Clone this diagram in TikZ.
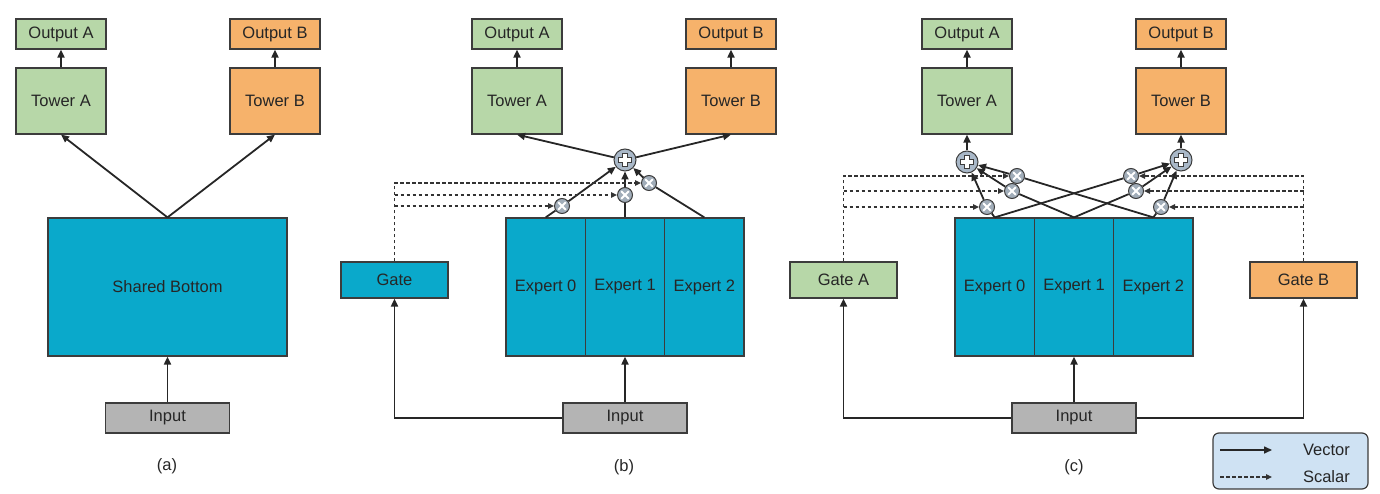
\documentclass[tikz,border=0pt]{standalone}
\usepackage{fontspec}
\setmainfont{Liberation Sans}
\usetikzlibrary{arrows.meta}
\definecolor{towgreen}{HTML}{B7D7A8}
\definecolor{toworange}{HTML}{F6B26B}
\definecolor{expblue}{HTML}{0AA9CB}
\definecolor{inpgray}{HTML}{B4B4B4}
\definecolor{legblue}{HTML}{CFE2F3}
\definecolor{edgegray}{HTML}{3C3C3C}
\definecolor{opfill}{HTML}{A9B8C8}

\begin{document}
\begin{tikzpicture}[
		x=1pt, y=-1pt,
		every node/.style={font=\fontsize{16.5}{19}\selectfont, text=black!85, inner sep=0pt},
		box/.style={rectangle, draw=edgegray, line width=1.2pt},
		outbox/.style={box, minimum width=90pt, minimum height=30pt},
		towbox/.style={box, minimum width=90pt, minimum height=66pt},
		inbox/.style={box, fill=inpgray, minimum width=124pt, minimum height=30pt},
		gatebox/.style={box, minimum width=107pt, minimum height=36pt},
		expbox/.style={box, fill=expblue, minimum width=79.4pt, minimum height=138pt},
		adder/.style={circle, draw=edgegray, fill=opfill, line width=1pt, minimum size=22pt,
			path picture={
				\draw[edgegray, line width=5.5pt]
					([xshift=-7pt]path picture bounding box.center) -- ([xshift=7pt]path picture bounding box.center)
					([yshift=-7pt]path picture bounding box.center) -- ([yshift=7pt]path picture bounding box.center);
				\draw[white, line width=3.3pt]
					([xshift=-6pt]path picture bounding box.center) -- ([xshift=6pt]path picture bounding box.center)
					([yshift=-6pt]path picture bounding box.center) -- ([yshift=6pt]path picture bounding box.center);
			}},
		mult/.style={circle, draw=edgegray, fill=opfill!80!gray, line width=1pt, minimum size=15pt,
			path picture={
				\draw[white, line width=2pt]
					([shift={(-3.8pt,-3.8pt)}]path picture bounding box.center) -- ([shift={(3.8pt,3.8pt)}]path picture bounding box.center)
					([shift={(-3.8pt,3.8pt)}]path picture bounding box.center) -- ([shift={(3.8pt,-3.8pt)}]path picture bounding box.center);
			}},
		plain/.style={line width=1.8pt, draw=black!85},
		vec/.style={plain, -{Triangle[length=8pt,width=7pt]}},
		sca/.style={line width=1.7pt, draw=black!80, dash pattern=on 3.5pt off 2.5pt, -{Triangle[length=6pt,width=5.5pt]}}
	]
  \useasboundingbox (0, 0) rectangle (1380, 494);

  % (a)
  \node (out_A_a) [outbox, fill=towgreen] at (61, 34) {Output A};
  \node (tow_A_a) [towbox, fill=towgreen] at (61, 101) {Tower A};
  \node (out_B_a) [outbox, fill=toworange] at (275, 34) {Output B};
  \node (tow_B_a) [towbox, fill=toworange] at (275, 101) {Tower B};
  \node (shared) [box, fill=expblue, minimum width=239pt, minimum height=138pt] at (167.5, 287) {Shared Bottom};
  \node (in_a) [inbox] at (167.5, 418) {Input};
  \node (lab_a) at (167, 466) {(a)};
  \draw[vec] (tow_A_a) -- (out_A_a);
  \draw[vec] (tow_B_a) -- (out_B_a);
  \draw[vec] (shared.north) -- (tow_A_a.south);
  \draw[vec] (shared.north) -- (tow_B_a.south);
  \draw[vec] (in_a) -- (shared);

  % (b)
  \node (out_A_b) [outbox, fill=towgreen] at (517, 34) {Output A};
  \node (tow_A_b) [towbox, fill=towgreen] at (517, 101) {Tower A};
  \node (out_B_b) [outbox, fill=toworange] at (731, 34) {Output B};
  \node (tow_B_b) [towbox, fill=toworange] at (731, 101) {Tower B};
  \node (e_0_b) [expbox] at (545.7, 287) {Expert 0};
  \node (e_1_b) [expbox] at (625, 287) {Expert 1};
  \node (e_2_b) [expbox] at (704.3, 287) {Expert 2};
  \node (gate_b) [gatebox, fill=expblue] at (394.5, 280) {Gate};
  \node (in_b) [inbox] at (625, 418) {Input};
  \node (lab_b) at (624, 467) {(b)};
  \node (plus_b) [adder] at (625, 160) {};
  \node (m_0_b) [mult] at (562, 206) {};
  \node (m_1_b) [mult] at (625, 195) {};
  \node (m_2_b) [mult] at (649, 183) {};
  \draw[vec] (tow_A_b) -- (out_A_b);
  \draw[vec] (tow_B_b) -- (out_B_b);
  \draw[vec] (plus_b) -- (tow_A_b.south);
  \draw[vec] (plus_b) -- (tow_B_b.south);
  \draw[plain] (e_0_b.north) -- (m_0_b);
  \draw[plain] (e_1_b.north) -- (m_1_b);
  \draw[plain] (e_2_b.north) -- (m_2_b);
  \draw[vec] (m_0_b) -- (plus_b);
  \draw[vec] (m_1_b) -- (plus_b);
  \draw[vec] (m_2_b) -- (plus_b);
  \draw[sca] (gate_b.north) |- (m_2_b);
  \draw[sca] (gate_b.north |- m_1_b) -- (m_1_b);
  \draw[sca] (gate_b.north |- m_0_b) -- (m_0_b);
  \draw[vec] (in_b.north) -- (e_1_b.south);
  \draw[vec] (in_b.west) -| (gate_b.south);

  % (c)
  \node (out_A_c) [outbox, fill=towgreen] at (967, 34) {Output A};
  \node (tow_A_c) [towbox, fill=towgreen] at (967, 101) {Tower A};
  \node (out_B_c) [outbox, fill=toworange] at (1181, 34) {Output B};
  \node (tow_B_c) [towbox, fill=toworange] at (1181, 101) {Tower B};
  \node (e_0_c) [expbox] at (994.7, 287) {Expert 0};
  \node (e_1_c) [expbox] at (1074, 287) {Expert 1};
  \node (e_2_c) [expbox] at (1153.3, 287) {Expert 2};
  \node (gate_A_c) [gatebox, fill=towgreen] at (843.5, 280) {Gate A};
  \node (gate_B_c) [gatebox, fill=toworange] at (1303.5, 280) {Gate B};
  \node (in_c) [inbox] at (1074, 418) {Input};
  \node (lab_c) at (1074, 467) {(c)};
  \node (plus_A_c) [adder] at (967, 162) {};
  \node (plus_B_c) [adder] at (1181, 160) {};
  \node (m_A0_c) [mult] at (987, 207) {};
  \node (m_A1_c) [mult] at (1012, 191) {};
  \node (m_A2_c) [mult] at (1017, 176) {};
  \node (m_B0_c) [mult] at (1131, 176) {};
  \node (m_B1_c) [mult] at (1136, 191) {};
  \node (m_B2_c) [mult] at (1161, 207) {};
  \draw[vec] (tow_A_c) -- (out_A_c);
  \draw[vec] (tow_B_c) -- (out_B_c);
  \draw[vec] (plus_A_c) -- (tow_A_c);
  \draw[vec] (plus_B_c) -- (tow_B_c);
  \draw[plain] (e_0_c.north) -- (m_A0_c);
  \draw[plain] (e_1_c.north) -- (m_A1_c);
  \draw[plain] (e_2_c.north) -- (m_A2_c);
  \draw[plain] (e_0_c.north) -- (m_B0_c);
  \draw[plain] (e_1_c.north) -- (m_B1_c);
  \draw[plain] (e_2_c.north) -- (m_B2_c);
  \draw[vec] (m_A0_c) -- (plus_A_c);
  \draw[vec] (m_A1_c) -- (plus_A_c);
  \draw[vec] (m_A2_c) -- (plus_A_c);
  \draw[vec] (m_B0_c) -- (plus_B_c);
  \draw[vec] (m_B1_c) -- (plus_B_c);
  \draw[vec] (m_B2_c) -- (plus_B_c);
  \draw[sca] (gate_A_c.north) |- (m_A2_c);
  \draw[sca] (gate_A_c.north |- m_A1_c) -- (m_A1_c);
  \draw[sca] (gate_A_c.north |- m_A0_c) -- (m_A0_c);
  \draw[sca] (gate_B_c.north) |- (m_B0_c);
  \draw[sca] (gate_B_c.north |- m_B1_c) -- (m_B1_c);
  \draw[sca] (gate_B_c.north |- m_B2_c) -- (m_B2_c);
  \draw[vec] (in_c.north) -- (e_1_c.south);
  \draw[vec] (in_c.west) -| (gate_A_c.south);
  \draw[vec] (in_c.east) -| (gate_B_c.south);

  % legend
  \node (legend) [rectangle, rounded corners=6pt, draw=edgegray, line width=1.2pt, fill=legblue,
    minimum width=155pt, minimum height=56pt] at (1290.5, 461) {};
  \coordinate (vec_s) at (1220, 450);
  \coordinate (vec_e) at (1272, 450);
  \coordinate (sca_s) at (1220, 477);
  \coordinate (sca_e) at (1272, 477);
  \node (vec_lab) [anchor=east] at (1350, 450) {Vector};
  \node (sca_lab) [anchor=east] at (1350, 477) {Scalar};
  \draw[vec, line width=1.5pt] (vec_s) -- (vec_e);
  \draw[sca, line width=1.2pt] (sca_s) -- (sca_e);
\end{tikzpicture}
\end{document}
